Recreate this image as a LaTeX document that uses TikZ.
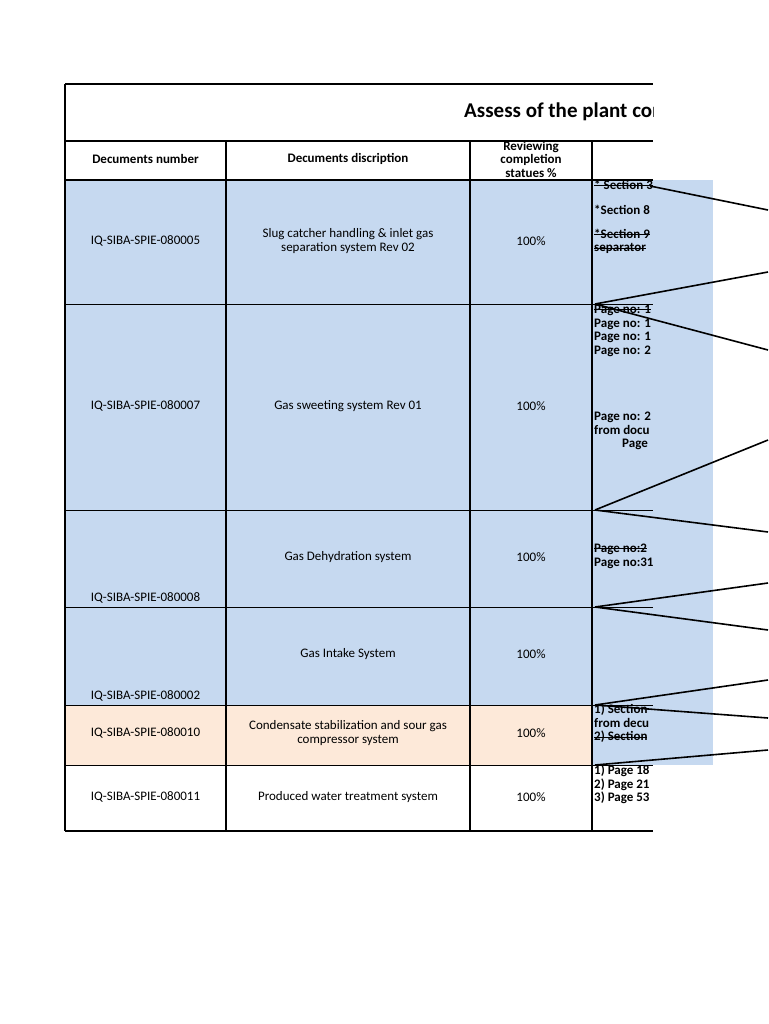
\documentclass[tikz,border=0pt]{standalone}
\usepackage{fontspec}
\setmainfont{Carlito}
\newlength\stl
\newcommand\strk[1]{\settowidth\stl{#1}\rlap{\rule[0.28em]{\stl}{0.7pt}}#1}
\begin{document}
\begin{tikzpicture}[x=1pt,y=-1pt,
  thick border/.style={line width=2.4pt},
  thin line/.style={line width=0.8pt},
  cell/.style={font=\fontsize{13}{14.5}\selectfont,align=center,inner sep=0},
  hdr/.style={font=\fontsize{13}{13.5}\selectfont\bfseries,align=center,inner sep=0},
  rtxt/.style={font=\fontsize{13}{13.5}\selectfont\bfseries,anchor=north west,align=left,inner sep=0},
  conn/.style={line width=1.6pt}]
\useasboundingbox (0,0) rectangle (768,1024);
\fill[white] (0,0) rectangle (768,1024);
% fills
\fill[fill={rgb,255:red,198;green,217;blue,240}] (65,180) rectangle (713,765);
\fill[fill={rgb,255:red,253;green,233;blue,217}] (65,705) rectangle (592,765);
% grid
\draw[thin line] (65,304) -- (653,304) (65,510) -- (653,510) (65,607) -- (653,607) (65,705) -- (653,705) (65,765) -- (653,765);
\draw[thick border] (65,84) -- (653,84) (65,141) -- (653,141) (65,180) -- (653,180) (65,831) -- (653,831);
\draw[thick border] (65,84) -- (65,831);
\draw[thick border] (226,141) -- (226,831) (470,141) -- (470,831) (592,141) -- (592,831);
% title
\begin{scope}
\clip (65,84) rectangle (653,141);
\node[font=\fontsize{21}{22}\selectfont\bfseries,anchor=west,inner sep=0] (title) at (464,112) {Assess of the plant commissioning documents};
\end{scope}
% headers
\node[hdr] (h1) at (145.5,159) {Decuments number};
\node[hdr] (h2) at (348,159) {Decuments discription};
\node[hdr] (h3) at (531,159) {Reviewing\\completion\\statues \%};
% rows
\node[cell] (a1) at (145.5,241) {IQ-SIBA-SPIE-080005};
\node[cell] (b1) at (348,241) {Slug catcher handling \& inlet gas\\separation system Rev 02};
\node[cell] (c1) at (531,241) {100\%};
\node[cell] (a2) at (145.5,406) {IQ-SIBA-SPIE-080007};
\node[cell] (b2) at (348,406) {Gas sweeting system Rev 01};
\node[cell] (c2) at (531,406) {100\%};
\node[cell] (a3) at (145.5,598) {IQ-SIBA-SPIE-080008};
\node[cell] (b3) at (348,557) {Gas Dehydration system};
\node[cell] (c3) at (531,557) {100\%};
\node[cell] (a4) at (145.5,696) {IQ-SIBA-SPIE-080002};
\node[cell] (b4) at (348,654) {Gas Intake System};
\node[cell] (c4) at (531,654) {100\%};
\node[cell] (a5) at (145.5,733) {IQ-SIBA-SPIE-080010};
\node[cell] (b5) at (348,733) {Condensate stabilization and sour gas\\compressor system};
\node[cell] (c5) at (531,733) {100\%};
\node[cell] (a6) at (145.5,797) {IQ-SIBA-SPIE-080011};
\node[cell] (b6) at (348,797) {Produced water treatment system};
\node[cell] (c6) at (531,797) {100\%};
% right column texts
\begin{scope}
\clip (592,180) rectangle (653,831);
\node[rtxt] (r1) at (594,180) {\strk{* Section 3}\\[12pt]*Section 8\\[10pt]\strk{*Section 9}\\\strk{separator}};
\node[rtxt] (r2) at (594,305) {\strk{Page no: 1}\\Page no: 1\\Page no: 1\\Page no: 2};
\node[rtxt] (r3) at (594,412) {Page no: 2\\from docu\\\hspace*{28pt}Page};
\node[rtxt] (r4) at (594,544) {\strk{Page no:2}\\Page no:31};
\node[rtxt] (r5) at (594,704) {1) Section\\from decu\\\strk{2) Section}};
\node[rtxt] (r6) at (594,765) {1) Page 18\\2) Page 21\\3) Page 53};
\end{scope}
% connectors
\coordinate (p1) at (650,186);
\coordinate (p2) at (595,304);
\coordinate (p3) at (595,510);
\coordinate (p4) at (595,607);
\coordinate (p5) at (595,705);
\coordinate (p6) at (595,765);
\coordinate (e1) at (768,210);
\coordinate (e2) at (768,272);
\coordinate (e3) at (768,350);
\coordinate (e4) at (768,440);
\coordinate (e5) at (768,532);
\coordinate (e6) at (768,583);
\coordinate (e7) at (768,630);
\coordinate (e8) at (768,680);
\coordinate (e9) at (768,718);
\coordinate (e10) at (768,750);
\draw[conn] (p1) -- (e1);
\draw[conn] (p2) -- (e2);
\draw[conn] (p2) -- (e3);
\draw[conn] (p3) -- (e4);
\draw[conn] (p3) -- (e5);
\draw[conn] (p4) -- (e6);
\draw[conn] (p4) -- (e7);
\draw[conn] (p5) -- (e8);
\draw[conn] (p5) -- (e9);
\draw[conn] (p6) -- (e10);
\end{tikzpicture}
\end{document}
